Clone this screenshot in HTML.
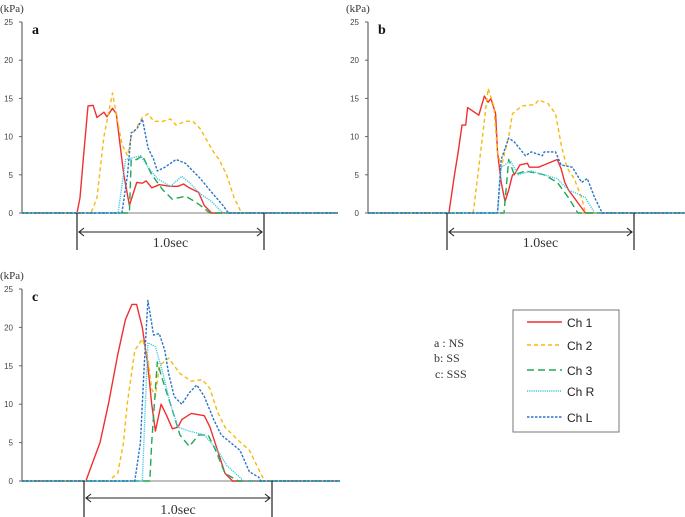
<!DOCTYPE html>
<html><head><meta charset="utf-8"><style>
body{margin:0;background:#fff;}
svg{display:block;font-family:"Liberation Sans",sans-serif;}
</style></head><body>
<svg id="fig" width="685" height="517" viewBox="0 0 685 517">
<g id="layer"></g>
<g font-family="Liberation Serif,serif" font-size="12" fill="#333">
<text x="434" y="347">a : NS</text>
<text x="434" y="362">b: SS</text>
<text x="435" y="378">c: SSS</text>
</g>
<g>
<rect x="513" y="310" width="106" height="122" fill="#fff" stroke="#777" stroke-width="1"/>
<line x1="527" y1="322" x2="562" y2="322" stroke="#f03030" stroke-width="1.5"/>
<text x="567" y="327" font-size="12" fill="#222">Ch 1</text>
<line x1="527" y1="345" x2="562" y2="345" stroke="#f7b90c" stroke-width="1.5" stroke-dasharray="4,3"/>
<text x="567" y="350" font-size="12" fill="#222">Ch 2</text>
<line x1="527" y1="370" x2="562" y2="370" stroke="#22a855" stroke-width="1.5" stroke-dasharray="7,4"/>
<text x="567" y="375" font-size="12" fill="#222">Ch 3</text>
<line x1="527" y1="391" x2="562" y2="391" stroke="#45c8e0" stroke-width="1.5" stroke-dasharray="1.2,1"/>
<text x="567" y="396" font-size="12" fill="#222">Ch R</text>
<line x1="527" y1="417" x2="562" y2="417" stroke="#2a74c8" stroke-width="1.5" stroke-dasharray="2.5,1.5"/>
<text x="567" y="422" font-size="12" fill="#222">Ch L</text>
</g>
</svg>
<script>
// times in seconds (from bracket start), values in kPa
const yTicks = [0, 5, 10, 15, 20, 25];
const panelLabels = ["a", "b", "c"];
const seriesNames = ["ch1", "ch2", "ch3", "chr", "chl"];
// Panel a
const aCh1T = [0,.016,.037,.059,.086,.107,.144,.16,.19,.21,.23,.25,.28,.30,.32,.35,.37,.40,.44,.50,.54,.57,.60,.65,.68,.72];
const aCh1V = [0,2,8,14,14.1,12.5,13.2,12.6,13.7,13,9,5,1,2.5,4,3.9,4.2,3.3,3.7,3.5,3.5,3.8,3.3,2.7,1,0];
const aCh2T = [.075,.107,.144,.19,.21,.24,.27,.29,.35,.38,.41,.46,.50,.53,.58,.62,.66,.73,.76,.80,.84,.88];
const aCh2V = [0,2,10,15.7,13,9,7.5,10,12.5,13,12,12,12.3,11.5,12,12,11,8,7,5,2,0];
const aCh3T = [.28,.29,.32,.35,.37,.40,.46,.51,.58,.63,.66,.71];
const aCh3V = [0,7,7,7.5,6.5,5,3,1.8,2.2,1.5,1,0];
const aChRT = [.22,.26,.34,.38,.43,.50,.56,.60,.66,.72,.78];
const aChRV = [0,7,7.5,6,4.5,3.5,4.8,4,2.5,1.5,0];
const aChLT = [.24,.27,.29,.32,.35,.38,.41,.43,.47,.53,.58,.62,.66,.71,.78,.81];
const aChLV = [0,5,10.5,11,12.3,8.5,7,5.5,6,7,6.5,5.5,4.5,3,1,0];
// Panel b
const bCh1T = [.01,.04,.06,.08,.10,.11,.17,.20,.22,.235,.26,.27,.29,.31,.33,.35,.36,.39,.43,.44,.49,.52,.59,.61,.63,.65,.68,.71,.74];
const bCh1V = [0,5,8,11.5,11.5,13.8,12.8,15.3,14.5,15,13,8,4,1.5,3,5,5,6.3,6.5,6,6,6.3,7,5.8,4,3,2,1,0];
const bCh2T = [.14,.19,.22,.25,.27,.29,.33,.35,.40,.47,.49,.54,.58,.61,.64,.68,.72,.74];
const bCh2V = [0,10,16.3,14,8,6,10,13,14,14.2,14.8,14.3,13,9,6,4.5,2,0];
const bCh3T = [.305,.33,.36,.42,.52,.59,.65,.70];
const bCh3V = [0,7,5,5.5,5,4,2,0];
const bChRT = [.27,.29,.34,.38,.45,.52,.59,.65,.70,.74,.79];
const bChRV = [0,6,6.8,5,5.5,5,4.5,3,2.5,2,0];
const bChLT = [.27,.29,.33,.36,.42,.45,.51,.52,.58,.61,.67,.72,.75,.79,.83];
const bChLV = [0,7,9.8,9.3,7.5,8,7.5,8,8,6.3,6,4,4.5,2,0];
// Panel c
const cCh1T = [.01,.04,.085,.13,.18,.22,.255,.28,.31,.34,.36,.38,.41,.44,.47,.50,.52,.57,.64,.67,.71,.75,.79];
const cCh1V = [0,2,5,10,16.5,21,23,23,20,15,10,6.5,10,8.5,6.8,7,8,8.8,8.5,7,4,1,0];
const cCh2T = [.13,.18,.21,.23,.27,.31,.34,.36,.38,.40,.45,.51,.57,.63,.67,.71,.75,.82,.88,.94,.96];
const cCh2V = [0,1,5,10,17,18.5,16,12,11,15,16,14,13,13.2,12,9,7,5.3,4,1,0];
const cCh3T = [.35,.36,.39,.42,.46,.51,.56,.61,.66,.70,.75,.82];
const cCh3V = [0,5,15.5,13,10,6,4.5,6,6,4,1,0];
const cChRT = [.31,.34,.38,.42,.46,.50,.56,.64,.71,.76,.85];
const cChRV = [0,18,17.5,14,10,7,6.5,6,4,2,0];
const cChLT = [.27,.30,.32,.34,.37,.40,.43,.45,.48,.52,.56,.60,.64,.69,.73,.83,.88,.93,.94];
const cChLV = [0,5,15,23.5,19,19.2,17,14,11,10,11.5,12.5,11,8,6,4,1.2,.5,0];

const styles = {
  ch1:{c:"#f03030",d:""},
  ch2:{c:"#f7b90c",d:"4,3"},
  ch3:{c:"#22a855",d:"7,4"},
  chr:{c:"#45c8e0",d:"1.2,1"},
  chl:{c:"#2a74c8",d:"2.5,1.5"}
};
const panels = [
  {ax:22, y0:213, yTop:22, b0:77, b1:264, xEnd:338, arrowY:232, bBot:250, textY:247,
   data:[[aCh1T,aCh1V],[aCh2T,aCh2V],[aCh3T,aCh3V],[aChRT,aChRV],[aChLT,aChLV]]},
  {ax:368, y0:213, yTop:22, b0:447, b1:634, xEnd:685, arrowY:232, bBot:250, textY:247,
   data:[[bCh1T,bCh1V],[bCh2T,bCh2V],[bCh3T,bCh3V],[bChRT,bChRV],[bChLT,bChLV]]},
  {ax:22, y0:481, yTop:289, b0:84, b1:272, xEnd:340, arrowY:498, bBot:517, textY:514,
   data:[[cCh1T,cCh1V],[cCh2T,cCh2V],[cCh3T,cCh3V],[cChRT,cChRV],[cChLT,cChLV]]}
];
const NS="http://www.w3.org/2000/svg";
const layer=document.getElementById("layer");
function mk(tag,attrs,parent){const e=document.createElementNS(NS,tag);for(const k in attrs)e.setAttribute(k,attrs[k]);(parent||layer).appendChild(e);return e;}
panels.forEach((p,pi)=>{
  const g=mk("g",{});
  
  
  const xs=t=>p.b0+t*(p.b1-p.b0);
  const ys=v=>p.y0-v/25*(p.y0-p.yTop);
  const kpa=mk("text",{x:p.ax-22,y:p.yTop-10,"font-size":"11","font-family":"Liberation Serif,serif",fill:"#333"},g);
  kpa.textContent="(kPa)";
  
  
  yTicks.forEach(v=>{
    const t=mk("text",{x:p.ax-9,y:ys(v)+3,"font-size":"8","text-anchor":"end",fill:"#444"},g);
    t.textContent=v;
    
    
    const tk=mk("line",{x1:p.ax-3,x2:p.ax,y1:ys(v),y2:ys(v),stroke:"#666","stroke-width":"1"},g);
    
    
  });
  const ya=mk("line",{x1:p.ax,x2:p.ax,y1:p.yTop,y2:p.y0,stroke:"#666","stroke-width":"1.2"},g);
  
  
  const xa=mk("line",{x1:p.ax,x2:p.xEnd,y1:p.y0,y2:p.y0,stroke:"#999","stroke-width":"1.2"},g);
  
  
  const lab=mk("text",{x:p.ax+10,y:p.yTop+12,"font-size":"14","font-weight":"bold","font-family":"Liberation Serif,serif",fill:"#111"},g);
  lab.textContent=panelLabels[pi];
  
  
  p.data.forEach((s,si)=>{
    const st=styles[seriesNames[si]];
    const T=s[0],V=s[1];
    let d="M"+p.ax+","+p.y0;
    for(let i=0;i<T.length;i++)d+=" L"+xs(T[i]).toFixed(1)+","+ys(V[i]).toFixed(1);
    d+=" L"+p.xEnd+","+p.y0;
    const path=mk("path",{d:d,fill:"none",stroke:st.c,"stroke-width":"1.4","stroke-dasharray":st.d,"stroke-linejoin":"round"},g);
    
    
  });
  [p.b0,p.b1].forEach(x=>{
    const l=mk("line",{x1:x,x2:x,y1:p.y0,y2:p.bBot,stroke:"#222","stroke-width":"1.2"},g);
    
    
  });
  const ar=mk("path",{d:`M${p.b0+2},${p.arrowY} L${p.b1-2},${p.arrowY} M${p.b0+7},${p.arrowY-4} L${p.b0+2},${p.arrowY} L${p.b0+7},${p.arrowY+4} M${p.b1-7},${p.arrowY-4} L${p.b1-2},${p.arrowY} L${p.b1-7},${p.arrowY+4}`,fill:"none",stroke:"#222","stroke-width":"1.1"},g);
  
  
  const dt=mk("text",{x:(p.b0+p.b1)/2,y:p.textY,"font-size":"14","text-anchor":"middle","font-family":"Liberation Serif,serif",fill:"#333"},g);
  dt.textContent="1.0sec";
  
  
});
</script>
</body></html>
